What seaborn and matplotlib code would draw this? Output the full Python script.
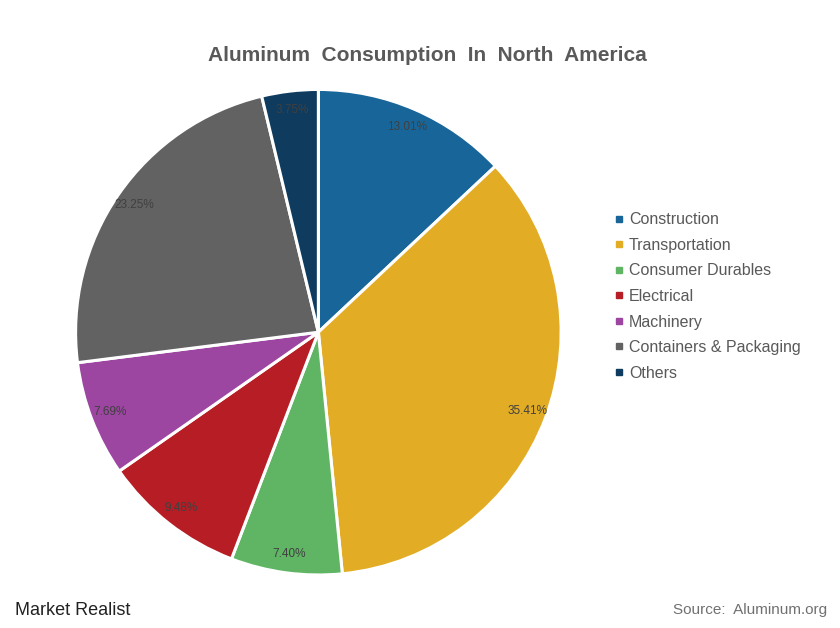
import matplotlib
matplotlib.use('Agg')
import matplotlib.pyplot as plt
import seaborn as sns
from matplotlib.lines import Line2D

sns.set_style("white")
plt.rcParams['font.family'] = ['Liberation Sans', 'DejaVu Sans']

categories = ['Construction', 'Transportation', 'Consumer Durables', 'Electrical',
              'Machinery', 'Containers & Packaging', 'Others']
shares = [13.01, 35.41, 7.40, 9.48, 7.69, 23.25, 3.75]
colors = ['#186699', '#e2ad25', '#5fb563', '#b71d24', '#9c45a1', '#626262', '#0e3b5e']
sns.set_palette(colors)

fig = plt.figure(figsize=(8.4, 6.28), dpi=100)
ax = fig.add_axes([0.379 - 0.2905, 0.471 - 0.3885, 0.581, 0.777])

wedges, _, autotexts = ax.pie(shares, colors=sns.color_palette(), startangle=90,
                              counterclock=False, autopct='%1.2f%%', pctdistance=0.92,
                              wedgeprops=dict(edgecolor='white', linewidth=2.2),
                              textprops=dict(fontsize=8.5, color='#404040'))
ax.set_xlim(-1.005, 1.005)
ax.set_ylim(-1.005, 1.005)
ax.set_aspect('equal')

fig.text(0.509, 0.912, 'Aluminum  Consumption  In  North  America', ha='center', va='center',
         fontsize=15, fontweight='bold', color='#595959')

handles = [Line2D([0], [0], marker='s', linestyle='', markersize=5,
                  markerfacecolor=c, markeredgecolor=c) for c in colors]
fig.legend(handles, categories, loc='upper left', bbox_to_anchor=(0.725, 0.672),
           frameon=False, fontsize=11.5, labelcolor='#595959', handlelength=0.5,
           handletextpad=0.35, labelspacing=0.66, borderaxespad=0)

fig.text(0.018, 0.028, 'Market Realist', fontsize=13, color='#222222', ha='left', va='center')
fig.text(0.985, 0.028, 'Source:  Aluminum.org', fontsize=11, color='#707070', ha='right', va='center')

plt.savefig('out.png', dpi=100)
